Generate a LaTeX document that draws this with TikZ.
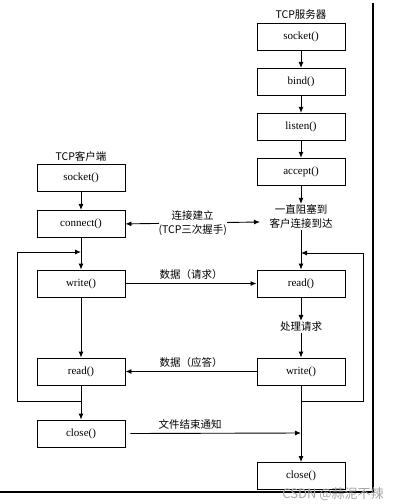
\documentclass[tikz,border=0pt]{standalone}
\usepackage{fontspec}
\setmainfont{Liberation Serif}
\newfontfamily\cjk{Noto Sans CJK SC}
\usetikzlibrary{arrows.meta,positioning}
\tikzset{
  callbox/.style={draw, line width=0.9pt, minimum width=88pt, minimum height=27pt,
    inner sep=0pt, font=\fontsize{11}{13}\selectfont},
  flow/.style={-{Latex[length=6pt,width=5pt]}, line width=0.9pt},
  twoflow/.style={{Latex[length=6pt,width=5pt]}-{Latex[length=6pt,width=5pt]}, line width=0.9pt},
  note/.style={font=\cjk\fontsize{10.5}{14}\selectfont, align=center, inner sep=1pt}
}

\begin{document}
\begin{tikzpicture}[x=1pt, y=-1pt, node distance=17pt]
\useasboundingbox (0,0) rectangle (415,504);

% server side
\node[note] (srvlabel) at (301,15) {TCP服务器};
\node[callbox] (ssocket) at (301,37) {socket()};
\node[callbox, below=of ssocket] (sbind) {bind()};
\node[callbox, below=of sbind] (slisten) {listen()};
\node[callbox, below=of slisten] (saccept) {accept()};
\node[note] (swait) at (301,217) {一直阻塞到\\客户连接到达};
\node[callbox] (sread) at (301,283.5) {read()};
\node[note] (sproc) at (301,327) {处理请求};
\node[callbox] (swrite) at (301,371.5) {write()};
\node[callbox] (sclose) at (301,476) {close()};

% client side
\node[note] (clilabel) at (81,156) {TCP客户端};
\node[callbox] (csocket) at (81,178) {socket()};
\node[callbox, below=18pt of csocket] (cconnect) {connect()};
\node[callbox] (cwrite) at (81,283.5) {write()};
\node[callbox] (cread) at (81,371.5) {read()};
\node[callbox] (cclose) at (81,433.5) {close()};

% vertical flows
\draw[flow] (ssocket)--(sbind);
\draw[flow] (sbind)--(slisten);
\draw[flow] (slisten)--(saccept);
\draw[flow] (saccept)--(swait);
\draw[flow] (swait)--(sread);
\draw[flow] (sread)--(sproc);
\draw[flow] (sproc)--(swrite);
\draw[flow] (swrite)--(sclose);
\draw[flow] (csocket)--(cconnect);
\draw[flow] (cconnect)--(cwrite);
\draw[flow] (cwrite)--(cread);
\draw[flow] (cread)--(cclose);

% loops
\coordinate (cback) at (81,401);
\coordinate (cin) at (81,252);
\draw[flow] (cback) -- (17,401) |- (cin);
\coordinate (sback) at (301,401);
\coordinate (sin) at (301,253);
\draw[flow] (sback) -- (363,401) |- (sin);

% messages
\draw[twoflow] (cconnect.east) -- (260,222)
  node[note, midway, fill=white, inner sep=0pt] (hshake) {连接建立\\(TCP三次握手)};
\draw[flow] (cwrite.east) -- node[note, above=3pt] (req) {数据（请求）} (sread.west);
\draw[flow] (swrite.west) -- node[note, above=3pt] (resp) {数据（应答）} (cread.east);
\coordinate (eofin) at (301,433);
\draw[flow] ([xshift=5pt]cclose.east) -- node[note, above=3pt, pos=0.35] (eof) {文件结束通知} (eofin);

% frame
\draw[line width=1.4pt] (373,3) -- (373,492) -- (0,492);
\node[font=\cjk\fontsize{13}{15}\selectfont, text=gray!70, inner sep=0pt] (mark) at (333,494) {CSDN @蒜泥不辣};
\end{tikzpicture}
\end{document}
